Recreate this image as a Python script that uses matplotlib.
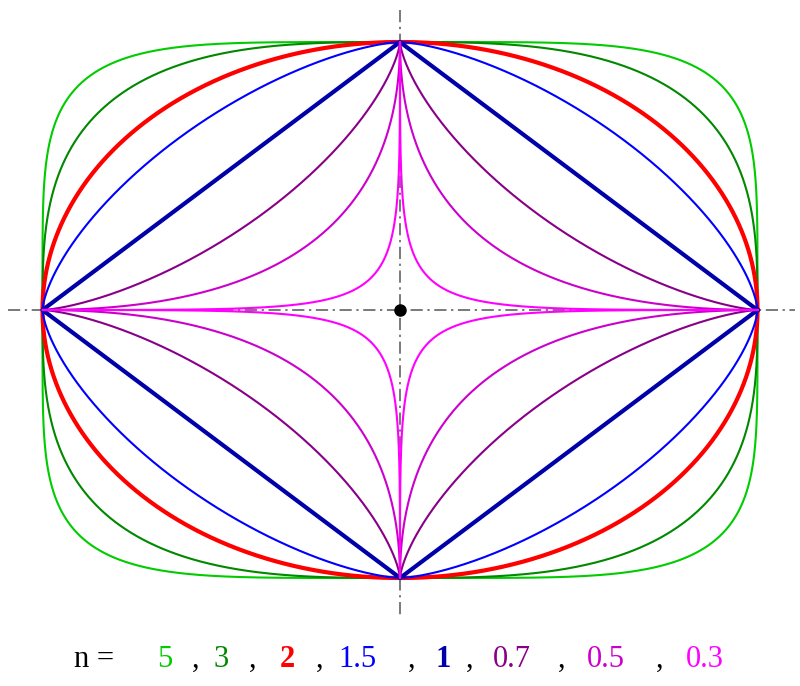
import numpy as np
import matplotlib
matplotlib.use("Agg")
import matplotlib.pyplot as plt

# superellipse |x/a|^n + |y/b|^n = 1
exponents = [5, 3, 2, 1.5, 1, 0.7, 0.5, 0.3]
labels = ["5", "3", "2", "1.5", "1", "0.7", "0.5", "0.3"]
colors = ["#00cc00", "#008800", "#ff0000", "#0000ff", "#0000aa", "#880088", "#cc00cc", "#ff00ff"]
widths = [1.5, 1.5, 3.0, 1.5, 3.0, 1.5, 1.5, 1.5]
bold = [False, False, True, False, True, False, False, False]
label_x = [165, 221, 287, 357, 443, 512, 606, 705]
comma_x = [196, 253, 320, 412, 470, 562, 660]

a = 357.5  # px
b = 268.0
cx, cy = 400.0, 686 - 310.0

fig = plt.figure(figsize=(8, 6.86), dpi=100)
ax = fig.add_axes([0, 0, 1, 1])
ax.set_xlim(0, 800)
ax.set_ylim(0, 686)
ax.axis("off")

# axes lines
ax.plot([8, 795], [cy, cy], color="#555555", lw=1.1, ls=(0, (8, 3, 1.5, 3)))
ax.plot([cx, cx], [686 - 10, 686 - 615], color="#555555", lw=1.1, ls=(0, (8, 3, 1.5, 3)))

t = np.linspace(0, 2 * np.pi, 4001)
for n, c, w in zip(exponents, colors, widths):
    ct, st = np.cos(t), np.sin(t)
    x = np.sign(ct) * np.abs(ct) ** (2.0 / n)
    y = np.sign(st) * np.abs(st) ** (2.0 / n)
    ax.plot(cx + a * x, cy + b * y, color=c, lw=w, solid_joinstyle="round")

ax.plot([cx], [cy], "o", color="black", ms=8, zorder=5)

font = "Liberation Serif"
base = 19
ax.text(94, base, "n =", fontsize=22, family=font, ha="center", va="baseline")
for s, c, xx, bb in zip(labels, colors, label_x, bold):
    ax.text(xx, base, s, fontsize=22, family=font, ha="center", va="baseline",
            color=c, fontweight="bold" if bb else "normal")
for xx in comma_x:
    ax.text(xx, base, ",", fontsize=22, family=font, ha="center", va="baseline")

fig.savefig("out.png", dpi=100)
